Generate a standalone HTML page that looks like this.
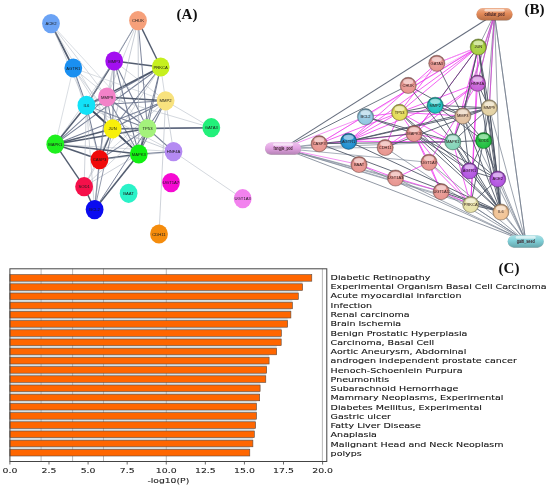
<!DOCTYPE html>
<html><head><meta charset="utf-8"><style>html,body{margin:0;padding:0;background:#fff;width:550px;height:488px;overflow:hidden}svg{display:block}</style></head>
<body><svg width="550" height="488" viewBox="0 0 550 488">
<rect width="550" height="488" fill="#fff"/>
<g><line x1="114.2" y1="61" x2="160.7" y2="67" stroke="#404b60" stroke-width="1.56" stroke-opacity="0.9"/>
<line x1="114.2" y1="61" x2="86.4" y2="105.4" stroke="#404b60" stroke-width="1.56" stroke-opacity="0.9"/>
<line x1="114.2" y1="61" x2="112.6" y2="128.8" stroke="#66708a" stroke-width="1.01" stroke-opacity="0.9"/>
<line x1="114.2" y1="61" x2="147.5" y2="128.5" stroke="#66708a" stroke-width="1.01" stroke-opacity="0.9"/>
<line x1="114.2" y1="61" x2="138.8" y2="154" stroke="#66708a" stroke-width="1.01" stroke-opacity="0.9"/>
<line x1="114.2" y1="61" x2="107" y2="97" stroke="#a8b0bc" stroke-width="0.55" stroke-opacity="0.9"/>
<line x1="114.2" y1="61" x2="99.5" y2="159.6" stroke="#a8b0bc" stroke-width="0.55" stroke-opacity="0.9"/>
<line x1="114.2" y1="61" x2="55.3" y2="144.2" stroke="#a8b0bc" stroke-width="0.55" stroke-opacity="0.9"/>
<line x1="114.2" y1="61" x2="165.6" y2="100.8" stroke="#a8b0bc" stroke-width="0.55" stroke-opacity="0.9"/>
<line x1="160.7" y1="67" x2="107" y2="97" stroke="#66708a" stroke-width="1.01" stroke-opacity="0.9"/>
<line x1="160.7" y1="67" x2="86.4" y2="105.4" stroke="#404b60" stroke-width="1.56" stroke-opacity="0.9"/>
<line x1="160.7" y1="67" x2="55.3" y2="144.2" stroke="#66708a" stroke-width="1.01" stroke-opacity="0.9"/>
<line x1="160.7" y1="67" x2="112.6" y2="128.8" stroke="#66708a" stroke-width="1.01" stroke-opacity="0.9"/>
<line x1="160.7" y1="67" x2="147.5" y2="128.5" stroke="#66708a" stroke-width="1.01" stroke-opacity="0.9"/>
<line x1="160.7" y1="67" x2="138.8" y2="154" stroke="#66708a" stroke-width="1.01" stroke-opacity="0.9"/>
<line x1="160.7" y1="67" x2="99.5" y2="159.6" stroke="#a8b0bc" stroke-width="0.55" stroke-opacity="0.9"/>
<line x1="160.7" y1="67" x2="165.6" y2="100.8" stroke="#a8b0bc" stroke-width="0.55" stroke-opacity="0.9"/>
<line x1="73.3" y1="68" x2="86.4" y2="105.4" stroke="#66708a" stroke-width="1.01" stroke-opacity="0.9"/>
<line x1="73.3" y1="68" x2="55.3" y2="144.2" stroke="#a8b0bc" stroke-width="0.47" stroke-opacity="0.9"/>
<line x1="73.3" y1="68" x2="112.6" y2="128.8" stroke="#a8b0bc" stroke-width="0.55" stroke-opacity="0.9"/>
<line x1="73.3" y1="68" x2="147.5" y2="128.5" stroke="#a8b0bc" stroke-width="0.55" stroke-opacity="0.9"/>
<line x1="73.3" y1="68" x2="138.8" y2="154" stroke="#a8b0bc" stroke-width="0.55" stroke-opacity="0.9"/>
<line x1="73.3" y1="68" x2="165.6" y2="100.8" stroke="#a8b0bc" stroke-width="0.47" stroke-opacity="0.9"/>
<line x1="73.3" y1="68" x2="99.5" y2="159.6" stroke="#a8b0bc" stroke-width="0.55" stroke-opacity="0.9"/>
<line x1="107" y1="97" x2="165.6" y2="100.8" stroke="#404b60" stroke-width="1.56" stroke-opacity="0.9"/>
<line x1="107" y1="97" x2="86.4" y2="105.4" stroke="#66708a" stroke-width="1.01" stroke-opacity="0.9"/>
<line x1="107" y1="97" x2="112.6" y2="128.8" stroke="#66708a" stroke-width="1.01" stroke-opacity="0.9"/>
<line x1="107" y1="97" x2="147.5" y2="128.5" stroke="#66708a" stroke-width="1.01" stroke-opacity="0.9"/>
<line x1="107" y1="97" x2="55.3" y2="144.2" stroke="#66708a" stroke-width="1.01" stroke-opacity="0.9"/>
<line x1="107" y1="97" x2="99.5" y2="159.6" stroke="#66708a" stroke-width="1.01" stroke-opacity="0.9"/>
<line x1="107" y1="97" x2="138.8" y2="154" stroke="#66708a" stroke-width="1.01" stroke-opacity="0.9"/>
<line x1="86.4" y1="105.4" x2="112.6" y2="128.8" stroke="#404b60" stroke-width="1.56" stroke-opacity="0.9"/>
<line x1="86.4" y1="105.4" x2="138.8" y2="154" stroke="#404b60" stroke-width="1.56" stroke-opacity="0.9"/>
<line x1="86.4" y1="105.4" x2="147.5" y2="128.5" stroke="#66708a" stroke-width="1.01" stroke-opacity="0.9"/>
<line x1="86.4" y1="105.4" x2="55.3" y2="144.2" stroke="#404b60" stroke-width="1.56" stroke-opacity="0.9"/>
<line x1="86.4" y1="105.4" x2="99.5" y2="159.6" stroke="#66708a" stroke-width="1.01" stroke-opacity="0.9"/>
<line x1="86.4" y1="105.4" x2="165.6" y2="100.8" stroke="#66708a" stroke-width="1.01" stroke-opacity="0.9"/>
<line x1="165.6" y1="100.8" x2="112.6" y2="128.8" stroke="#66708a" stroke-width="1.01" stroke-opacity="0.9"/>
<line x1="165.6" y1="100.8" x2="147.5" y2="128.5" stroke="#66708a" stroke-width="1.01" stroke-opacity="0.9"/>
<line x1="165.6" y1="100.8" x2="55.3" y2="144.2" stroke="#66708a" stroke-width="1.01" stroke-opacity="0.9"/>
<line x1="165.6" y1="100.8" x2="138.8" y2="154" stroke="#66708a" stroke-width="1.01" stroke-opacity="0.9"/>
<line x1="165.6" y1="100.8" x2="99.5" y2="159.6" stroke="#a8b0bc" stroke-width="0.55" stroke-opacity="0.9"/>
<line x1="112.6" y1="128.8" x2="147.5" y2="128.5" stroke="#404b60" stroke-width="1.56" stroke-opacity="0.9"/>
<line x1="112.6" y1="128.8" x2="55.3" y2="144.2" stroke="#404b60" stroke-width="1.56" stroke-opacity="0.9"/>
<line x1="112.6" y1="128.8" x2="99.5" y2="159.6" stroke="#404b60" stroke-width="1.56" stroke-opacity="0.9"/>
<line x1="112.6" y1="128.8" x2="138.8" y2="154" stroke="#404b60" stroke-width="1.56" stroke-opacity="0.9"/>
<line x1="147.5" y1="128.5" x2="55.3" y2="144.2" stroke="#404b60" stroke-width="1.56" stroke-opacity="0.9"/>
<line x1="147.5" y1="128.5" x2="99.5" y2="159.6" stroke="#66708a" stroke-width="1.01" stroke-opacity="0.9"/>
<line x1="147.5" y1="128.5" x2="138.8" y2="154" stroke="#404b60" stroke-width="1.56" stroke-opacity="0.9"/>
<line x1="55.3" y1="144.2" x2="99.5" y2="159.6" stroke="#404b60" stroke-width="1.56" stroke-opacity="0.9"/>
<line x1="55.3" y1="144.2" x2="138.8" y2="154" stroke="#404b60" stroke-width="1.56" stroke-opacity="0.9"/>
<line x1="99.5" y1="159.6" x2="138.8" y2="154" stroke="#404b60" stroke-width="1.56" stroke-opacity="0.9"/>
<line x1="51" y1="23.6" x2="73.3" y2="68" stroke="#404b60" stroke-width="1.72" stroke-opacity="0.9"/>
<line x1="51" y1="23.6" x2="86.4" y2="105.4" stroke="#a8b0bc" stroke-width="0.55" stroke-opacity="0.9"/>
<line x1="51" y1="23.6" x2="107" y2="97" stroke="#a8b0bc" stroke-width="0.55" stroke-opacity="0.9"/>
<line x1="51" y1="23.6" x2="112.6" y2="128.8" stroke="#a8b0bc" stroke-width="0.47" stroke-opacity="0.9"/>
<line x1="51" y1="23.6" x2="147.5" y2="128.5" stroke="#a8b0bc" stroke-width="0.47" stroke-opacity="0.9"/>
<line x1="138" y1="20.6" x2="114.2" y2="61" stroke="#66708a" stroke-width="0.94" stroke-opacity="0.9"/>
<line x1="138" y1="20.6" x2="160.7" y2="67" stroke="#404b60" stroke-width="1.40" stroke-opacity="0.9"/>
<line x1="138" y1="20.6" x2="112.6" y2="128.8" stroke="#a8b0bc" stroke-width="0.70" stroke-opacity="0.9"/>
<line x1="138" y1="20.6" x2="147.5" y2="128.5" stroke="#66708a" stroke-width="0.94" stroke-opacity="0.9"/>
<line x1="138" y1="20.6" x2="138.8" y2="154" stroke="#a8b0bc" stroke-width="0.70" stroke-opacity="0.9"/>
<line x1="138" y1="20.6" x2="86.4" y2="105.4" stroke="#a8b0bc" stroke-width="0.55" stroke-opacity="0.9"/>
<line x1="138" y1="20.6" x2="107" y2="97" stroke="#a8b0bc" stroke-width="0.55" stroke-opacity="0.9"/>
<line x1="211.3" y1="127.7" x2="147.5" y2="128.5" stroke="#404b60" stroke-width="1.56" stroke-opacity="0.9"/>
<line x1="211.3" y1="127.7" x2="112.6" y2="128.8" stroke="#66708a" stroke-width="0.94" stroke-opacity="0.9"/>
<line x1="211.3" y1="127.7" x2="165.6" y2="100.8" stroke="#a8b0bc" stroke-width="0.55" stroke-opacity="0.9"/>
<line x1="211.3" y1="127.7" x2="107" y2="97" stroke="#a8b0bc" stroke-width="0.55" stroke-opacity="0.9"/>
<line x1="173.5" y1="151.6" x2="147.5" y2="128.5" stroke="#66708a" stroke-width="1.09" stroke-opacity="0.9"/>
<line x1="173.5" y1="151.6" x2="138.8" y2="154" stroke="#66708a" stroke-width="1.09" stroke-opacity="0.9"/>
<line x1="173.5" y1="151.6" x2="112.6" y2="128.8" stroke="#a8b0bc" stroke-width="0.70" stroke-opacity="0.9"/>
<line x1="173.5" y1="151.6" x2="165.6" y2="100.8" stroke="#a8b0bc" stroke-width="0.62" stroke-opacity="0.9"/>
<line x1="173.5" y1="151.6" x2="55.3" y2="144.2" stroke="#a8b0bc" stroke-width="0.55" stroke-opacity="0.9"/>
<line x1="173.5" y1="151.6" x2="86.4" y2="105.4" stroke="#a8b0bc" stroke-width="0.55" stroke-opacity="0.9"/>
<line x1="173.5" y1="151.6" x2="99.5" y2="159.6" stroke="#a8b0bc" stroke-width="0.55" stroke-opacity="0.9"/>
<line x1="173.5" y1="151.6" x2="242.7" y2="198.7" stroke="#a8b0bc" stroke-width="0.55" stroke-opacity="0.9"/>
<line x1="159" y1="234" x2="165.6" y2="100.8" stroke="#a8b0bc" stroke-width="0.62" stroke-opacity="0.9"/>
<line x1="84.1" y1="186.7" x2="55.3" y2="144.2" stroke="#404b60" stroke-width="1.40" stroke-opacity="0.9"/>
<line x1="84.1" y1="186.7" x2="94.6" y2="209.6" stroke="#404b60" stroke-width="1.40" stroke-opacity="0.9"/>
<line x1="84.1" y1="186.7" x2="99.5" y2="159.6" stroke="#a8b0bc" stroke-width="0.62" stroke-opacity="0.9"/>
<line x1="84.1" y1="186.7" x2="86.4" y2="105.4" stroke="#a8b0bc" stroke-width="0.62" stroke-opacity="0.9"/>
<line x1="84.1" y1="186.7" x2="138.8" y2="154" stroke="#a8b0bc" stroke-width="0.62" stroke-opacity="0.9"/>
<line x1="84.1" y1="186.7" x2="147.5" y2="128.5" stroke="#a8b0bc" stroke-width="0.55" stroke-opacity="0.9"/>
<line x1="84.1" y1="186.7" x2="112.6" y2="128.8" stroke="#a8b0bc" stroke-width="0.55" stroke-opacity="0.9"/>
<line x1="94.6" y1="209.6" x2="99.5" y2="159.6" stroke="#66708a" stroke-width="1.09" stroke-opacity="0.9"/>
<line x1="94.6" y1="209.6" x2="138.8" y2="154" stroke="#404b60" stroke-width="1.56" stroke-opacity="0.9"/>
<line x1="94.6" y1="209.6" x2="147.5" y2="128.5" stroke="#66708a" stroke-width="0.94" stroke-opacity="0.9"/>
<line x1="94.6" y1="209.6" x2="112.6" y2="128.8" stroke="#66708a" stroke-width="0.78" stroke-opacity="0.9"/>
<line x1="94.6" y1="209.6" x2="107" y2="97" stroke="#a8b0bc" stroke-width="0.62" stroke-opacity="0.9"/>
<line x1="94.6" y1="209.6" x2="86.4" y2="105.4" stroke="#a8b0bc" stroke-width="0.62" stroke-opacity="0.9"/>
<ellipse cx="51" cy="23.6" rx="8.9" ry="9.6" fill="#6ba3f5"/>
<text x="51" y="25.200000000000003" font-size="4.2" text-anchor="middle" fill="#1a1a1a" font-family="Liberation Sans, sans-serif">ACE2</text>
<ellipse cx="138" cy="20.6" rx="8.9" ry="9.6" fill="#f6a07a"/>
<text x="138" y="22.200000000000003" font-size="4.2" text-anchor="middle" fill="#1a1a1a" font-family="Liberation Sans, sans-serif">CHUK</text>
<ellipse cx="114.2" cy="61" rx="8.9" ry="9.6" fill="#a30ff0"/>
<text x="114.2" y="62.6" font-size="4.2" text-anchor="middle" fill="#1a1a1a" font-family="Liberation Sans, sans-serif">MMP3</text>
<ellipse cx="160.7" cy="67" rx="8.9" ry="9.6" fill="#c6f01e"/>
<text x="160.7" y="68.6" font-size="4.2" text-anchor="middle" fill="#1a1a1a" font-family="Liberation Sans, sans-serif">PRKCA</text>
<ellipse cx="73.3" cy="68" rx="8.9" ry="9.6" fill="#1a8ff0"/>
<text x="73.3" y="69.6" font-size="4.2" text-anchor="middle" fill="#1a1a1a" font-family="Liberation Sans, sans-serif">AGTR1</text>
<ellipse cx="107" cy="97" rx="8.9" ry="9.6" fill="#f282c8"/>
<text x="107" y="98.6" font-size="4.2" text-anchor="middle" fill="#1a1a1a" font-family="Liberation Sans, sans-serif">MMP9</text>
<ellipse cx="86.4" cy="105.4" rx="8.9" ry="9.6" fill="#12e2f8"/>
<text x="86.4" y="107.0" font-size="4.2" text-anchor="middle" fill="#1a1a1a" font-family="Liberation Sans, sans-serif">IL6</text>
<ellipse cx="165.6" cy="100.8" rx="8.9" ry="9.6" fill="#f8e27e"/>
<text x="165.6" y="102.39999999999999" font-size="4.2" text-anchor="middle" fill="#1a1a1a" font-family="Liberation Sans, sans-serif">MMP2</text>
<ellipse cx="112.6" cy="128.8" rx="8.9" ry="9.6" fill="#f8f00a"/>
<text x="112.6" y="130.4" font-size="4.2" text-anchor="middle" fill="#1a1a1a" font-family="Liberation Sans, sans-serif">JUN</text>
<ellipse cx="147.5" cy="128.5" rx="8.9" ry="9.6" fill="#a4f27c"/>
<text x="147.5" y="130.1" font-size="4.2" text-anchor="middle" fill="#1a1a1a" font-family="Liberation Sans, sans-serif">TP53</text>
<ellipse cx="211.3" cy="127.7" rx="8.9" ry="9.6" fill="#22f07a"/>
<text x="211.3" y="129.3" font-size="4.2" text-anchor="middle" fill="#1a1a1a" font-family="Liberation Sans, sans-serif">GATA3</text>
<ellipse cx="55.3" cy="144.2" rx="8.9" ry="9.6" fill="#1ef01e"/>
<text x="55.3" y="145.79999999999998" font-size="4.2" text-anchor="middle" fill="#1a1a1a" font-family="Liberation Sans, sans-serif">MAPK1</text>
<ellipse cx="99.5" cy="159.6" rx="8.9" ry="9.6" fill="#f00a0a"/>
<text x="99.5" y="161.2" font-size="4.2" text-anchor="middle" fill="#1a1a1a" font-family="Liberation Sans, sans-serif">CASP3</text>
<ellipse cx="138.8" cy="154" rx="8.9" ry="9.6" fill="#12f012"/>
<text x="138.8" y="155.6" font-size="4.2" text-anchor="middle" fill="#1a1a1a" font-family="Liberation Sans, sans-serif">MAPK3</text>
<ellipse cx="173.5" cy="151.6" rx="8.9" ry="9.6" fill="#b48af2"/>
<text x="173.5" y="153.2" font-size="4.2" text-anchor="middle" fill="#1a1a1a" font-family="Liberation Sans, sans-serif">HNF4A</text>
<ellipse cx="171" cy="182.6" rx="8.9" ry="9.6" fill="#f50ad2"/>
<text x="171" y="184.2" font-size="4.2" text-anchor="middle" fill="#1a1a1a" font-family="Liberation Sans, sans-serif">UGT1A7</text>
<ellipse cx="84.1" cy="186.7" rx="8.9" ry="9.6" fill="#f5104a"/>
<text x="84.1" y="188.29999999999998" font-size="4.2" text-anchor="middle" fill="#1a1a1a" font-family="Liberation Sans, sans-serif">SOD1</text>
<ellipse cx="128.6" cy="193.3" rx="8.9" ry="9.6" fill="#2af2c8"/>
<text x="128.6" y="194.9" font-size="4.2" text-anchor="middle" fill="#1a1a1a" font-family="Liberation Sans, sans-serif">BAAT</text>
<ellipse cx="94.6" cy="209.6" rx="8.9" ry="9.6" fill="#0a0af0"/>
<text x="94.6" y="211.2" font-size="4.2" text-anchor="middle" fill="#1a1a1a" font-family="Liberation Sans, sans-serif">BCL2</text>
<ellipse cx="242.7" cy="198.7" rx="8.9" ry="9.6" fill="#f282ee"/>
<text x="242.7" y="200.29999999999998" font-size="4.2" text-anchor="middle" fill="#1a1a1a" font-family="Liberation Sans, sans-serif">UGT1A3</text>
<ellipse cx="159" cy="234" rx="8.9" ry="9.6" fill="#f58c0c"/>
<text x="159" y="235.6" font-size="4.2" text-anchor="middle" fill="#1a1a1a" font-family="Liberation Sans, sans-serif">CDH11</text></g>
<g><defs><linearGradient id="pg1" x1="0" y1="0" x2="0" y2="1"><stop offset="0" stop-color="#edb292"/><stop offset="0.45" stop-color="#e48a58"/><stop offset="1" stop-color="#b66e46"/></linearGradient><linearGradient id="pg2" x1="0" y1="0" x2="0" y2="1"><stop offset="0" stop-color="#edc3ed"/><stop offset="0.45" stop-color="#e4a4e4"/><stop offset="1" stop-color="#b683b6"/></linearGradient><linearGradient id="pg3" x1="0" y1="0" x2="0" y2="1"><stop offset="0" stop-color="#ace0e5"/><stop offset="0.45" stop-color="#80d0d8"/><stop offset="1" stop-color="#66a6ac"/></linearGradient><radialGradient id="ng4" cx="0.5" cy="0.55" r="0.55"><stop offset="0" stop-color="#b2d556"/><stop offset="0.7" stop-color="#a8d040"/><stop offset="1" stop-color="#5c7223"/></radialGradient><radialGradient id="ng5" cx="0.5" cy="0.55" r="0.55"><stop offset="0" stop-color="#eaa29d"/><stop offset="0.7" stop-color="#e89690"/><stop offset="1" stop-color="#7f524f"/></radialGradient><radialGradient id="ng6" cx="0.5" cy="0.55" r="0.55"><stop offset="0" stop-color="#eaa29d"/><stop offset="0.7" stop-color="#e89690"/><stop offset="1" stop-color="#7f524f"/></radialGradient><radialGradient id="ng7" cx="0.5" cy="0.55" r="0.55"><stop offset="0" stop-color="#ce73dc"/><stop offset="0.7" stop-color="#c860d8"/><stop offset="1" stop-color="#6e3476"/></radialGradient><radialGradient id="ng8" cx="0.5" cy="0.55" r="0.55"><stop offset="0" stop-color="#9fcee5"/><stop offset="0.7" stop-color="#92c8e2"/><stop offset="1" stop-color="#506e7c"/></radialGradient><radialGradient id="ng9" cx="0.5" cy="0.55" r="0.55"><stop offset="0" stop-color="#e7e06d"/><stop offset="0.7" stop-color="#e4dc5a"/><stop offset="1" stop-color="#7d7931"/></radialGradient><radialGradient id="ng10" cx="0.5" cy="0.55" r="0.55"><stop offset="0" stop-color="#3ac9c7"/><stop offset="0.7" stop-color="#20c2c0"/><stop offset="1" stop-color="#116a69"/></radialGradient><radialGradient id="ng11" cx="0.5" cy="0.55" r="0.55"><stop offset="0" stop-color="#e5c7ab"/><stop offset="0.7" stop-color="#e2c0a0"/><stop offset="1" stop-color="#7c6958"/></radialGradient><radialGradient id="ng12" cx="0.5" cy="0.55" r="0.55"><stop offset="0" stop-color="#e7d7ae"/><stop offset="0.7" stop-color="#e4d2a4"/><stop offset="1" stop-color="#7d735a"/></radialGradient><radialGradient id="ng13" cx="0.5" cy="0.55" r="0.55"><stop offset="0" stop-color="#eaa29d"/><stop offset="0.7" stop-color="#e89690"/><stop offset="1" stop-color="#7f524f"/></radialGradient><radialGradient id="ng14" cx="0.5" cy="0.55" r="0.55"><stop offset="0" stop-color="#3a9dd5"/><stop offset="0.7" stop-color="#2090d0"/><stop offset="1" stop-color="#114f72"/></radialGradient><radialGradient id="ng15" cx="0.5" cy="0.55" r="0.55"><stop offset="0" stop-color="#eaa29d"/><stop offset="0.7" stop-color="#e89690"/><stop offset="1" stop-color="#7f524f"/></radialGradient><radialGradient id="ng16" cx="0.5" cy="0.55" r="0.55"><stop offset="0" stop-color="#92d9c0"/><stop offset="0.7" stop-color="#84d4b8"/><stop offset="1" stop-color="#487465"/></radialGradient><radialGradient id="ng17" cx="0.5" cy="0.55" r="0.55"><stop offset="0" stop-color="#3ac756"/><stop offset="0.7" stop-color="#20c040"/><stop offset="1" stop-color="#116923"/></radialGradient><radialGradient id="ng18" cx="0.5" cy="0.55" r="0.55"><stop offset="0" stop-color="#eaa29d"/><stop offset="0.7" stop-color="#e89690"/><stop offset="1" stop-color="#7f524f"/></radialGradient><radialGradient id="ng19" cx="0.5" cy="0.55" r="0.55"><stop offset="0" stop-color="#eaa29d"/><stop offset="0.7" stop-color="#e89690"/><stop offset="1" stop-color="#7f524f"/></radialGradient><radialGradient id="ng20" cx="0.5" cy="0.55" r="0.55"><stop offset="0" stop-color="#eaa29d"/><stop offset="0.7" stop-color="#e89690"/><stop offset="1" stop-color="#7f524f"/></radialGradient><radialGradient id="ng21" cx="0.5" cy="0.55" r="0.55"><stop offset="0" stop-color="#eaa29d"/><stop offset="0.7" stop-color="#e89690"/><stop offset="1" stop-color="#7f524f"/></radialGradient><radialGradient id="ng22" cx="0.5" cy="0.55" r="0.55"><stop offset="0" stop-color="#bd6ae5"/><stop offset="0.7" stop-color="#b456e2"/><stop offset="1" stop-color="#632f7c"/></radialGradient><radialGradient id="ng23" cx="0.5" cy="0.55" r="0.55"><stop offset="0" stop-color="#bd6ae5"/><stop offset="0.7" stop-color="#b456e2"/><stop offset="1" stop-color="#632f7c"/></radialGradient><radialGradient id="ng24" cx="0.5" cy="0.55" r="0.55"><stop offset="0" stop-color="#eaa29d"/><stop offset="0.7" stop-color="#e89690"/><stop offset="1" stop-color="#7f524f"/></radialGradient><radialGradient id="ng25" cx="0.5" cy="0.55" r="0.55"><stop offset="0" stop-color="#eae5b2"/><stop offset="0.7" stop-color="#e8e2a8"/><stop offset="1" stop-color="#7f7c5c"/></radialGradient><radialGradient id="ng26" cx="0.5" cy="0.55" r="0.55"><stop offset="0" stop-color="#f3cba2"/><stop offset="0.7" stop-color="#f2c496"/><stop offset="1" stop-color="#856b52"/></radialGradient></defs><line x1="494.5" y1="14.2" x2="283.1" y2="148.4" stroke="#4a5466" stroke-width="1.1" stroke-opacity="0.85"/>
<line x1="283.1" y1="148.4" x2="525.7" y2="241.3" stroke="#6e7888" stroke-width="0.9" stroke-opacity="0.85"/>
<line x1="494.5" y1="14.2" x2="525.7" y2="241.3" stroke="#6e7888" stroke-width="0.8" stroke-opacity="0.85"/>
<line x1="494.5" y1="14.2" x2="525.7" y2="241.3" stroke="#6e7888" stroke-width="0.8" stroke-opacity="0.85"/>
<line x1="494.5" y1="14.2" x2="478.3" y2="47" stroke="#6e7888" stroke-width="0.8" stroke-opacity="0.85"/>
<line x1="494.5" y1="14.2" x2="477.5" y2="83.2" stroke="#6e7888" stroke-width="0.8" stroke-opacity="0.85"/>
<line x1="494.5" y1="14.2" x2="489.3" y2="107.8" stroke="#6e7888" stroke-width="0.8" stroke-opacity="0.85"/>
<line x1="494.5" y1="14.2" x2="483.6" y2="140.5" stroke="#6e7888" stroke-width="0.8" stroke-opacity="0.85"/>
<line x1="494.5" y1="14.2" x2="500.9" y2="212" stroke="#6e7888" stroke-width="0.8" stroke-opacity="0.85"/>
<line x1="494.5" y1="14.2" x2="462.8" y2="115.9" stroke="#6e7888" stroke-width="0.8" stroke-opacity="0.85"/>
<line x1="494.5" y1="14.2" x2="489.3" y2="107.8" stroke="#e040e0" stroke-width="0.9" stroke-opacity="0.85"/>
<line x1="494.5" y1="14.2" x2="477.5" y2="83.2" stroke="#e040e0" stroke-width="0.9" stroke-opacity="0.85"/>
<line x1="494.5" y1="14.2" x2="452.8" y2="141.8" stroke="#e040e0" stroke-width="0.9" stroke-opacity="0.85"/>
<line x1="478.3" y1="47" x2="436.8" y2="63.3" stroke="#ee30ee" stroke-width="0.9" stroke-opacity="0.85"/>
<line x1="478.3" y1="47" x2="319.2" y2="143.7" stroke="#f4a0f4" stroke-width="0.7" stroke-opacity="0.85"/>
<line x1="478.3" y1="47" x2="408.2" y2="85.4" stroke="#f4a0f4" stroke-width="0.7" stroke-opacity="0.85"/>
<line x1="478.3" y1="47" x2="365.5" y2="116.7" stroke="#f4a0f4" stroke-width="0.7" stroke-opacity="0.85"/>
<line x1="478.3" y1="47" x2="436.8" y2="63.3" stroke="#f4a0f4" stroke-width="0.7" stroke-opacity="0.85"/>
<line x1="283.1" y1="148.4" x2="408.2" y2="85.4" stroke="#556070" stroke-width="1.0" stroke-opacity="0.85"/>
<line x1="283.1" y1="148.4" x2="319.2" y2="143.7" stroke="#7e8898" stroke-width="0.8" stroke-opacity="0.85"/>
<line x1="283.1" y1="148.4" x2="348.6" y2="141.3" stroke="#7e8898" stroke-width="0.8" stroke-opacity="0.85"/>
<line x1="283.1" y1="148.4" x2="452.8" y2="141.8" stroke="#7e8898" stroke-width="0.8" stroke-opacity="0.85"/>
<line x1="283.1" y1="148.4" x2="429" y2="162.3" stroke="#7e8898" stroke-width="0.8" stroke-opacity="0.85"/>
<line x1="283.1" y1="148.4" x2="395.5" y2="178" stroke="#7e8898" stroke-width="0.8" stroke-opacity="0.85"/>
<line x1="283.1" y1="148.4" x2="441.2" y2="191.6" stroke="#7e8898" stroke-width="0.8" stroke-opacity="0.85"/>
<line x1="283.1" y1="148.4" x2="470.7" y2="204.5" stroke="#7e8898" stroke-width="0.8" stroke-opacity="0.85"/>
<line x1="283.1" y1="148.4" x2="500.9" y2="212" stroke="#7e8898" stroke-width="0.8" stroke-opacity="0.85"/>
<line x1="283.1" y1="148.4" x2="385.2" y2="147.5" stroke="#7e8898" stroke-width="0.8" stroke-opacity="0.85"/>
<line x1="283.1" y1="148.4" x2="359" y2="164.5" stroke="#f070f0" stroke-width="0.9" stroke-opacity="0.85"/>
<line x1="283.1" y1="148.4" x2="365.5" y2="116.7" stroke="#f070f0" stroke-width="0.9" stroke-opacity="0.85"/>
<line x1="525.7" y1="241.3" x2="500.9" y2="212" stroke="#6e7888" stroke-width="0.8" stroke-opacity="0.85"/>
<line x1="525.7" y1="241.3" x2="470.7" y2="204.5" stroke="#6e7888" stroke-width="0.8" stroke-opacity="0.85"/>
<line x1="525.7" y1="241.3" x2="497.7" y2="179" stroke="#6e7888" stroke-width="0.8" stroke-opacity="0.85"/>
<line x1="525.7" y1="241.3" x2="469.5" y2="170.8" stroke="#6e7888" stroke-width="0.8" stroke-opacity="0.85"/>
<line x1="525.7" y1="241.3" x2="441.2" y2="191.6" stroke="#6e7888" stroke-width="0.8" stroke-opacity="0.85"/>
<line x1="525.7" y1="241.3" x2="395.5" y2="178" stroke="#6e7888" stroke-width="0.8" stroke-opacity="0.85"/>
<line x1="525.7" y1="241.3" x2="483.6" y2="140.5" stroke="#6e7888" stroke-width="0.8" stroke-opacity="0.85"/>
<line x1="525.7" y1="241.3" x2="462.8" y2="115.9" stroke="#6e7888" stroke-width="0.8" stroke-opacity="0.85"/>
<line x1="525.7" y1="241.3" x2="489.3" y2="107.8" stroke="#6e7888" stroke-width="0.8" stroke-opacity="0.85"/>
<line x1="525.7" y1="241.3" x2="359" y2="164.5" stroke="#6e7888" stroke-width="0.8" stroke-opacity="0.85"/>
<line x1="525.7" y1="241.3" x2="385.2" y2="147.5" stroke="#6e7888" stroke-width="0.8" stroke-opacity="0.85"/>
<line x1="525.7" y1="241.3" x2="429" y2="162.3" stroke="#6e7888" stroke-width="0.8" stroke-opacity="0.85"/>
<line x1="478.3" y1="47" x2="399.6" y2="112.4" stroke="#ee30ee" stroke-width="0.9" stroke-opacity="0.85"/>
<line x1="478.3" y1="47" x2="414.1" y2="133.6" stroke="#ee30ee" stroke-width="0.9" stroke-opacity="0.85"/>
<line x1="478.3" y1="47" x2="348.6" y2="141.3" stroke="#ee30ee" stroke-width="0.9" stroke-opacity="0.85"/>
<line x1="478.3" y1="47" x2="319.2" y2="143.7" stroke="#ee30ee" stroke-width="0.9" stroke-opacity="0.85"/>
<line x1="478.3" y1="47" x2="452.8" y2="141.8" stroke="#ee30ee" stroke-width="0.9" stroke-opacity="0.85"/>
<line x1="478.3" y1="47" x2="470.7" y2="204.5" stroke="#ee30ee" stroke-width="0.9" stroke-opacity="0.85"/>
<line x1="477.5" y1="83.2" x2="399.6" y2="112.4" stroke="#ee30ee" stroke-width="0.9" stroke-opacity="0.85"/>
<line x1="477.5" y1="83.2" x2="429" y2="162.3" stroke="#ee30ee" stroke-width="0.9" stroke-opacity="0.85"/>
<line x1="477.5" y1="83.2" x2="414.1" y2="133.6" stroke="#ee30ee" stroke-width="0.9" stroke-opacity="0.85"/>
<line x1="477.5" y1="83.2" x2="470.7" y2="204.5" stroke="#ee30ee" stroke-width="0.9" stroke-opacity="0.85"/>
<line x1="477.5" y1="83.2" x2="385.2" y2="147.5" stroke="#ee30ee" stroke-width="0.9" stroke-opacity="0.85"/>
<line x1="436.8" y1="63.3" x2="399.6" y2="112.4" stroke="#ee30ee" stroke-width="0.9" stroke-opacity="0.85"/>
<line x1="436.8" y1="63.3" x2="348.6" y2="141.3" stroke="#ee30ee" stroke-width="0.9" stroke-opacity="0.85"/>
<line x1="399.6" y1="112.4" x2="414.1" y2="133.6" stroke="#ee30ee" stroke-width="0.9" stroke-opacity="0.85"/>
<line x1="399.6" y1="112.4" x2="348.6" y2="141.3" stroke="#ee30ee" stroke-width="0.9" stroke-opacity="0.85"/>
<line x1="399.6" y1="112.4" x2="452.8" y2="141.8" stroke="#ee30ee" stroke-width="0.9" stroke-opacity="0.85"/>
<line x1="399.6" y1="112.4" x2="319.2" y2="143.7" stroke="#ee30ee" stroke-width="0.9" stroke-opacity="0.85"/>
<line x1="399.6" y1="112.4" x2="365.5" y2="116.7" stroke="#ee30ee" stroke-width="0.9" stroke-opacity="0.85"/>
<line x1="399.6" y1="112.4" x2="462.8" y2="115.9" stroke="#ee30ee" stroke-width="0.9" stroke-opacity="0.85"/>
<line x1="399.6" y1="112.4" x2="385.2" y2="147.5" stroke="#ee30ee" stroke-width="0.9" stroke-opacity="0.85"/>
<line x1="414.1" y1="133.6" x2="348.6" y2="141.3" stroke="#ee30ee" stroke-width="0.9" stroke-opacity="0.85"/>
<line x1="414.1" y1="133.6" x2="452.8" y2="141.8" stroke="#ee30ee" stroke-width="0.9" stroke-opacity="0.85"/>
<line x1="414.1" y1="133.6" x2="429" y2="162.3" stroke="#ee30ee" stroke-width="0.9" stroke-opacity="0.85"/>
<line x1="414.1" y1="133.6" x2="441.2" y2="191.6" stroke="#ee30ee" stroke-width="0.9" stroke-opacity="0.85"/>
<line x1="414.1" y1="133.6" x2="470.7" y2="204.5" stroke="#ee30ee" stroke-width="0.9" stroke-opacity="0.85"/>
<line x1="414.1" y1="133.6" x2="385.2" y2="147.5" stroke="#ee30ee" stroke-width="0.9" stroke-opacity="0.85"/>
<line x1="395.5" y1="178" x2="429" y2="162.3" stroke="#ee30ee" stroke-width="0.9" stroke-opacity="0.85"/>
<line x1="395.5" y1="178" x2="441.2" y2="191.6" stroke="#ee30ee" stroke-width="0.9" stroke-opacity="0.85"/>
<line x1="441.2" y1="191.6" x2="429" y2="162.3" stroke="#ee30ee" stroke-width="0.9" stroke-opacity="0.85"/>
<line x1="441.2" y1="191.6" x2="470.7" y2="204.5" stroke="#ee30ee" stroke-width="0.9" stroke-opacity="0.85"/>
<line x1="429" y1="162.3" x2="470.7" y2="204.5" stroke="#ee30ee" stroke-width="0.9" stroke-opacity="0.85"/>
<line x1="348.6" y1="141.3" x2="319.2" y2="143.7" stroke="#ee30ee" stroke-width="0.9" stroke-opacity="0.85"/>
<line x1="348.6" y1="141.3" x2="452.8" y2="141.8" stroke="#ee30ee" stroke-width="0.9" stroke-opacity="0.85"/>
<line x1="359" y1="164.5" x2="395.5" y2="178" stroke="#ee30ee" stroke-width="0.9" stroke-opacity="0.85"/>
<line x1="452.8" y1="141.8" x2="470.7" y2="204.5" stroke="#ee30ee" stroke-width="0.9" stroke-opacity="0.85"/>
<line x1="435.2" y1="105.3" x2="348.6" y2="141.3" stroke="#ee30ee" stroke-width="0.9" stroke-opacity="0.85"/>
<line x1="435.2" y1="105.3" x2="414.1" y2="133.6" stroke="#ee30ee" stroke-width="0.9" stroke-opacity="0.85"/>
<line x1="435.2" y1="105.3" x2="462.8" y2="115.9" stroke="#485060" stroke-width="1.0" stroke-opacity="0.85"/>
<line x1="435.2" y1="105.3" x2="489.3" y2="107.8" stroke="#485060" stroke-width="1.0" stroke-opacity="0.85"/>
<line x1="462.8" y1="115.9" x2="489.3" y2="107.8" stroke="#485060" stroke-width="1.0" stroke-opacity="0.85"/>
<line x1="435.2" y1="105.3" x2="399.6" y2="112.4" stroke="#485060" stroke-width="1.0" stroke-opacity="0.85"/>
<line x1="462.8" y1="115.9" x2="452.8" y2="141.8" stroke="#485060" stroke-width="1.0" stroke-opacity="0.85"/>
<line x1="489.3" y1="107.8" x2="452.8" y2="141.8" stroke="#485060" stroke-width="1.0" stroke-opacity="0.85"/>
<line x1="489.3" y1="107.8" x2="483.6" y2="140.5" stroke="#485060" stroke-width="1.0" stroke-opacity="0.85"/>
<line x1="462.8" y1="115.9" x2="483.6" y2="140.5" stroke="#485060" stroke-width="1.0" stroke-opacity="0.85"/>
<line x1="452.8" y1="141.8" x2="483.6" y2="140.5" stroke="#485060" stroke-width="1.0" stroke-opacity="0.85"/>
<line x1="452.8" y1="141.8" x2="469.5" y2="170.8" stroke="#485060" stroke-width="1.0" stroke-opacity="0.85"/>
<line x1="452.8" y1="141.8" x2="497.7" y2="179" stroke="#485060" stroke-width="1.0" stroke-opacity="0.85"/>
<line x1="469.5" y1="170.8" x2="497.7" y2="179" stroke="#485060" stroke-width="1.0" stroke-opacity="0.85"/>
<line x1="469.5" y1="170.8" x2="500.9" y2="212" stroke="#485060" stroke-width="1.0" stroke-opacity="0.85"/>
<line x1="497.7" y1="179" x2="500.9" y2="212" stroke="#485060" stroke-width="1.0" stroke-opacity="0.85"/>
<line x1="470.7" y1="204.5" x2="500.9" y2="212" stroke="#485060" stroke-width="1.0" stroke-opacity="0.85"/>
<line x1="489.3" y1="107.8" x2="500.9" y2="212" stroke="#485060" stroke-width="1.0" stroke-opacity="0.85"/>
<line x1="462.8" y1="115.9" x2="500.9" y2="212" stroke="#485060" stroke-width="1.0" stroke-opacity="0.85"/>
<line x1="435.2" y1="105.3" x2="500.9" y2="212" stroke="#485060" stroke-width="1.0" stroke-opacity="0.85"/>
<line x1="478.3" y1="47" x2="500.9" y2="212" stroke="#485060" stroke-width="1.0" stroke-opacity="0.85"/>
<line x1="477.5" y1="83.2" x2="500.9" y2="212" stroke="#485060" stroke-width="1.0" stroke-opacity="0.85"/>
<line x1="489.3" y1="107.8" x2="497.7" y2="179" stroke="#485060" stroke-width="1.0" stroke-opacity="0.85"/>
<line x1="408.2" y1="85.4" x2="462.8" y2="115.9" stroke="#485060" stroke-width="1.0" stroke-opacity="0.85"/>
<line x1="408.2" y1="85.4" x2="452.8" y2="141.8" stroke="#485060" stroke-width="1.0" stroke-opacity="0.85"/>
<line x1="436.8" y1="63.3" x2="462.8" y2="115.9" stroke="#485060" stroke-width="1.0" stroke-opacity="0.85"/>
<line x1="365.5" y1="116.7" x2="452.8" y2="141.8" stroke="#485060" stroke-width="1.0" stroke-opacity="0.85"/>
<line x1="319.2" y1="143.7" x2="452.8" y2="141.8" stroke="#485060" stroke-width="1.0" stroke-opacity="0.85"/>
<line x1="348.6" y1="141.3" x2="462.8" y2="115.9" stroke="#485060" stroke-width="1.0" stroke-opacity="0.85"/>
<line x1="348.6" y1="141.3" x2="489.3" y2="107.8" stroke="#485060" stroke-width="1.0" stroke-opacity="0.85"/>
<line x1="399.6" y1="112.4" x2="489.3" y2="107.8" stroke="#485060" stroke-width="1.0" stroke-opacity="0.85"/>
<line x1="399.6" y1="112.4" x2="500.9" y2="212" stroke="#485060" stroke-width="1.0" stroke-opacity="0.85"/>
<line x1="414.1" y1="133.6" x2="500.9" y2="212" stroke="#485060" stroke-width="1.0" stroke-opacity="0.85"/>
<line x1="385.2" y1="147.5" x2="489.3" y2="107.8" stroke="#485060" stroke-width="1.0" stroke-opacity="0.85"/>
<line x1="483.6" y1="140.5" x2="500.9" y2="212" stroke="#485060" stroke-width="1.0" stroke-opacity="0.85"/>
<line x1="483.6" y1="140.5" x2="470.7" y2="204.5" stroke="#485060" stroke-width="1.0" stroke-opacity="0.85"/>
<line x1="441.2" y1="191.6" x2="500.9" y2="212" stroke="#485060" stroke-width="1.0" stroke-opacity="0.85"/>
<line x1="470.7" y1="204.5" x2="497.7" y2="179" stroke="#485060" stroke-width="1.0" stroke-opacity="0.85"/>
<line x1="435.2" y1="105.3" x2="483.6" y2="140.5" stroke="#485060" stroke-width="1.0" stroke-opacity="0.85"/>
<line x1="477.5" y1="83.2" x2="489.3" y2="107.8" stroke="#485060" stroke-width="1.0" stroke-opacity="0.85"/>
<line x1="478.3" y1="47" x2="489.3" y2="107.8" stroke="#485060" stroke-width="1.0" stroke-opacity="0.85"/>
<line x1="478.3" y1="47" x2="462.8" y2="115.9" stroke="#485060" stroke-width="1.0" stroke-opacity="0.85"/>
<line x1="365.5" y1="116.7" x2="414.1" y2="133.6" stroke="#485060" stroke-width="1.0" stroke-opacity="0.85"/>
<line x1="319.2" y1="143.7" x2="414.1" y2="133.6" stroke="#485060" stroke-width="1.0" stroke-opacity="0.85"/>
<line x1="478.3" y1="47" x2="435.2" y2="105.3" stroke="#485060" stroke-width="1.0" stroke-opacity="0.85"/>
<line x1="478.3" y1="47" x2="462.8" y2="115.9" stroke="#485060" stroke-width="1.0" stroke-opacity="0.85"/>
<line x1="452.8" y1="141.8" x2="500.9" y2="212" stroke="#485060" stroke-width="1.0" stroke-opacity="0.85"/>
<line x1="319.2" y1="143.7" x2="500.9" y2="212" stroke="#485060" stroke-width="1.0" stroke-opacity="0.85"/>
<line x1="348.6" y1="141.3" x2="500.9" y2="212" stroke="#485060" stroke-width="1.0" stroke-opacity="0.85"/>
<line x1="469.5" y1="170.8" x2="462.8" y2="115.9" stroke="#485060" stroke-width="1.0" stroke-opacity="0.85"/>
<line x1="469.5" y1="170.8" x2="399.6" y2="112.4" stroke="#485060" stroke-width="1.0" stroke-opacity="0.85"/>
<line x1="497.7" y1="179" x2="414.1" y2="133.6" stroke="#485060" stroke-width="1.0" stroke-opacity="0.85"/>
<line x1="469.5" y1="170.8" x2="414.1" y2="133.6" stroke="#485060" stroke-width="1.0" stroke-opacity="0.85"/>
<line x1="497.7" y1="179" x2="478.3" y2="47" stroke="#485060" stroke-width="1.0" stroke-opacity="0.85"/>
<line x1="469.5" y1="170.8" x2="483.6" y2="140.5" stroke="#485060" stroke-width="1.0" stroke-opacity="0.85"/>
<line x1="497.7" y1="179" x2="483.6" y2="140.5" stroke="#485060" stroke-width="1.0" stroke-opacity="0.85"/>
<rect x="476.5" y="8.6" width="36" height="12.2" rx="6.1" fill="#000" fill-opacity="0.25"/>
<rect x="476.5" y="8.1" width="36" height="12.2" rx="6.1" fill="url(#pg1)"/>
<rect x="484.5" y="9.0" width="20" height="2.6" rx="1.3" fill="#fff" fill-opacity="0.6"/>
<text x="484.5" y="15.7" font-size="4.6" font-weight="bold" textLength="20" lengthAdjust="spacingAndGlyphs" fill="#3a2028" font-family="Liberation Sans, sans-serif">cellular_pod</text>
<rect x="265.1" y="142.8" width="36" height="12.2" rx="6.1" fill="#000" fill-opacity="0.25"/>
<rect x="265.1" y="142.3" width="36" height="12.2" rx="6.1" fill="url(#pg2)"/>
<rect x="273.1" y="143.20000000000002" width="20" height="2.6" rx="1.3" fill="#fff" fill-opacity="0.6"/>
<text x="273.6" y="149.9" font-size="4.6" font-weight="bold" textLength="19" lengthAdjust="spacingAndGlyphs" fill="#3a2028" font-family="Liberation Sans, sans-serif">fangjie_pod</text>
<rect x="507.70000000000005" y="235.70000000000002" width="36" height="12.2" rx="6.1" fill="#000" fill-opacity="0.25"/>
<rect x="507.70000000000005" y="235.20000000000002" width="36" height="12.2" rx="6.1" fill="url(#pg3)"/>
<rect x="515.7" y="236.10000000000002" width="20" height="2.6" rx="1.3" fill="#fff" fill-opacity="0.6"/>
<text x="516.7" y="242.8" font-size="4.6" font-weight="bold" textLength="18" lengthAdjust="spacingAndGlyphs" fill="#3a2028" font-family="Liberation Sans, sans-serif">gaiti_seed</text>
<circle cx="478.3" cy="47" r="8.1" fill="url(#ng4)" stroke="#546820" stroke-width="0.45"/>
<ellipse cx="478.3" cy="43" rx="5" ry="2.6" fill="#fff" fill-opacity="0.5"/>
<text x="478.3" y="48.4" font-size="4.0" text-anchor="middle" fill="#2a1a1a" font-family="Liberation Sans, sans-serif">JUN</text>
<circle cx="436.8" cy="63.3" r="8.1" fill="url(#ng5)" stroke="#744b48" stroke-width="0.45"/>
<ellipse cx="436.8" cy="59.3" rx="5" ry="2.6" fill="#fff" fill-opacity="0.5"/>
<text x="436.8" y="64.7" font-size="4.0" text-anchor="middle" fill="#2a1a1a" font-family="Liberation Sans, sans-serif">GATA3</text>
<circle cx="408.2" cy="85.4" r="8.1" fill="url(#ng6)" stroke="#744b48" stroke-width="0.45"/>
<ellipse cx="408.2" cy="81.4" rx="5" ry="2.6" fill="#fff" fill-opacity="0.5"/>
<text x="408.2" y="86.80000000000001" font-size="4.0" text-anchor="middle" fill="#2a1a1a" font-family="Liberation Sans, sans-serif">CHUK</text>
<circle cx="477.5" cy="83.2" r="8.1" fill="url(#ng7)" stroke="#64306c" stroke-width="0.45"/>
<ellipse cx="477.5" cy="79.2" rx="5" ry="2.6" fill="#fff" fill-opacity="0.5"/>
<text x="477.5" y="84.60000000000001" font-size="4.0" text-anchor="middle" fill="#2a1a1a" font-family="Liberation Sans, sans-serif">HNF4A</text>
<circle cx="365.5" cy="116.7" r="8.1" fill="url(#ng8)" stroke="#496471" stroke-width="0.45"/>
<ellipse cx="365.5" cy="112.7" rx="5" ry="2.6" fill="#fff" fill-opacity="0.5"/>
<text x="365.5" y="118.10000000000001" font-size="4.0" text-anchor="middle" fill="#2a1a1a" font-family="Liberation Sans, sans-serif">BCL2</text>
<circle cx="399.6" cy="112.4" r="8.1" fill="url(#ng9)" stroke="#726e2d" stroke-width="0.45"/>
<ellipse cx="399.6" cy="108.4" rx="5" ry="2.6" fill="#fff" fill-opacity="0.5"/>
<text x="399.6" y="113.80000000000001" font-size="4.0" text-anchor="middle" fill="#2a1a1a" font-family="Liberation Sans, sans-serif">TP53</text>
<circle cx="435.2" cy="105.3" r="8.1" fill="url(#ng10)" stroke="#106160" stroke-width="0.45"/>
<ellipse cx="435.2" cy="101.3" rx="5" ry="2.6" fill="#fff" fill-opacity="0.5"/>
<text x="435.2" y="106.7" font-size="4.0" text-anchor="middle" fill="#2a1a1a" font-family="Liberation Sans, sans-serif">MMP2</text>
<circle cx="462.8" cy="115.9" r="8.1" fill="url(#ng11)" stroke="#716050" stroke-width="0.45"/>
<ellipse cx="462.8" cy="111.9" rx="5" ry="2.6" fill="#fff" fill-opacity="0.5"/>
<text x="462.8" y="117.30000000000001" font-size="4.0" text-anchor="middle" fill="#2a1a1a" font-family="Liberation Sans, sans-serif">MMP3</text>
<circle cx="489.3" cy="107.8" r="8.1" fill="url(#ng12)" stroke="#726952" stroke-width="0.45"/>
<ellipse cx="489.3" cy="103.8" rx="5" ry="2.6" fill="#fff" fill-opacity="0.5"/>
<text x="489.3" y="109.2" font-size="4.0" text-anchor="middle" fill="#2a1a1a" font-family="Liberation Sans, sans-serif">MMP9</text>
<circle cx="319.2" cy="143.7" r="8.1" fill="url(#ng13)" stroke="#744b48" stroke-width="0.45"/>
<ellipse cx="319.2" cy="139.7" rx="5" ry="2.6" fill="#fff" fill-opacity="0.5"/>
<text x="319.2" y="145.1" font-size="4.0" text-anchor="middle" fill="#2a1a1a" font-family="Liberation Sans, sans-serif">CASP3</text>
<circle cx="348.6" cy="141.3" r="8.1" fill="url(#ng14)" stroke="#104868" stroke-width="0.45"/>
<ellipse cx="348.6" cy="137.3" rx="5" ry="2.6" fill="#fff" fill-opacity="0.5"/>
<text x="348.6" y="142.70000000000002" font-size="4.0" text-anchor="middle" fill="#2a1a1a" font-family="Liberation Sans, sans-serif">AGTR1</text>
<circle cx="414.1" cy="133.6" r="8.1" fill="url(#ng15)" stroke="#744b48" stroke-width="0.45"/>
<ellipse cx="414.1" cy="129.6" rx="5" ry="2.6" fill="#fff" fill-opacity="0.5"/>
<text x="414.1" y="135.0" font-size="4.0" text-anchor="middle" fill="#2a1a1a" font-family="Liberation Sans, sans-serif">MAPK3</text>
<circle cx="452.8" cy="141.8" r="8.1" fill="url(#ng16)" stroke="#426a5c" stroke-width="0.45"/>
<ellipse cx="452.8" cy="137.8" rx="5" ry="2.6" fill="#fff" fill-opacity="0.5"/>
<text x="452.8" y="143.20000000000002" font-size="4.0" text-anchor="middle" fill="#2a1a1a" font-family="Liberation Sans, sans-serif">MAPK1</text>
<circle cx="483.6" cy="140.5" r="8.1" fill="url(#ng17)" stroke="#106020" stroke-width="0.45"/>
<ellipse cx="483.6" cy="136.5" rx="5" ry="2.6" fill="#fff" fill-opacity="0.5"/>
<text x="483.6" y="141.9" font-size="4.0" text-anchor="middle" fill="#2a1a1a" font-family="Liberation Sans, sans-serif">SOD1</text>
<circle cx="385.2" cy="147.5" r="8.1" fill="url(#ng18)" stroke="#744b48" stroke-width="0.45"/>
<ellipse cx="385.2" cy="143.5" rx="5" ry="2.6" fill="#fff" fill-opacity="0.5"/>
<text x="385.2" y="148.9" font-size="4.0" text-anchor="middle" fill="#2a1a1a" font-family="Liberation Sans, sans-serif">CDH11</text>
<circle cx="359" cy="164.5" r="8.1" fill="url(#ng19)" stroke="#744b48" stroke-width="0.45"/>
<ellipse cx="359" cy="160.5" rx="5" ry="2.6" fill="#fff" fill-opacity="0.5"/>
<text x="359" y="165.9" font-size="4.0" text-anchor="middle" fill="#2a1a1a" font-family="Liberation Sans, sans-serif">BAAT</text>
<circle cx="429" cy="162.3" r="8.1" fill="url(#ng20)" stroke="#744b48" stroke-width="0.45"/>
<ellipse cx="429" cy="158.3" rx="5" ry="2.6" fill="#fff" fill-opacity="0.5"/>
<text x="429" y="163.70000000000002" font-size="4.0" text-anchor="middle" fill="#2a1a1a" font-family="Liberation Sans, sans-serif">UGT1A7</text>
<circle cx="395.5" cy="178" r="8.1" fill="url(#ng21)" stroke="#744b48" stroke-width="0.45"/>
<ellipse cx="395.5" cy="174" rx="5" ry="2.6" fill="#fff" fill-opacity="0.5"/>
<text x="395.5" y="179.4" font-size="4.0" text-anchor="middle" fill="#2a1a1a" font-family="Liberation Sans, sans-serif">UGT1A3</text>
<circle cx="469.5" cy="170.8" r="8.1" fill="url(#ng22)" stroke="#5a2b71" stroke-width="0.45"/>
<ellipse cx="469.5" cy="166.8" rx="5" ry="2.6" fill="#fff" fill-opacity="0.5"/>
<text x="469.5" y="172.20000000000002" font-size="4.0" text-anchor="middle" fill="#2a1a1a" font-family="Liberation Sans, sans-serif">AGTR1</text>
<circle cx="497.7" cy="179" r="8.1" fill="url(#ng23)" stroke="#5a2b71" stroke-width="0.45"/>
<ellipse cx="497.7" cy="175" rx="5" ry="2.6" fill="#fff" fill-opacity="0.5"/>
<text x="497.7" y="180.4" font-size="4.0" text-anchor="middle" fill="#2a1a1a" font-family="Liberation Sans, sans-serif">ACE2</text>
<circle cx="441.2" cy="191.6" r="8.1" fill="url(#ng24)" stroke="#744b48" stroke-width="0.45"/>
<ellipse cx="441.2" cy="187.6" rx="5" ry="2.6" fill="#fff" fill-opacity="0.5"/>
<text x="441.2" y="193.0" font-size="4.0" text-anchor="middle" fill="#2a1a1a" font-family="Liberation Sans, sans-serif">UGT1A1</text>
<circle cx="470.7" cy="204.5" r="8.1" fill="url(#ng25)" stroke="#747154" stroke-width="0.45"/>
<ellipse cx="470.7" cy="200.5" rx="5" ry="2.6" fill="#fff" fill-opacity="0.5"/>
<text x="470.7" y="205.9" font-size="4.0" text-anchor="middle" fill="#2a1a1a" font-family="Liberation Sans, sans-serif">PRKCA</text>
<circle cx="500.9" cy="212" r="8.1" fill="url(#ng26)" stroke="#79624b" stroke-width="0.45"/>
<ellipse cx="500.9" cy="208" rx="5" ry="2.6" fill="#fff" fill-opacity="0.5"/>
<text x="500.9" y="213.4" font-size="4.0" text-anchor="middle" fill="#2a1a1a" font-family="Liberation Sans, sans-serif">IL6</text></g>
<g><rect x="9.9" y="268.8" width="316.90000000000003" height="192.7" fill="#fff"/>
<rect x="9.9" y="281.50" width="292.70" height="2.00" fill="#d6e0e4"/>
<rect x="9.9" y="290.70" width="288.40" height="2.00" fill="#d6e0e4"/>
<rect x="9.9" y="299.90" width="282.50" height="2.00" fill="#d6e0e4"/>
<rect x="9.9" y="309.10" width="281.00" height="2.00" fill="#d6e0e4"/>
<rect x="9.9" y="318.30" width="277.80" height="2.00" fill="#d6e0e4"/>
<rect x="9.9" y="327.50" width="271.50" height="2.00" fill="#d6e0e4"/>
<rect x="9.9" y="336.70" width="271.30" height="2.00" fill="#d6e0e4"/>
<rect x="9.9" y="345.90" width="266.80" height="2.00" fill="#d6e0e4"/>
<rect x="9.9" y="355.10" width="259.20" height="2.00" fill="#d6e0e4"/>
<rect x="9.9" y="364.30" width="256.80" height="2.00" fill="#d6e0e4"/>
<rect x="9.9" y="373.50" width="255.90" height="2.00" fill="#d6e0e4"/>
<rect x="9.9" y="382.70" width="250.20" height="2.00" fill="#d6e0e4"/>
<rect x="9.9" y="391.90" width="249.80" height="2.00" fill="#d6e0e4"/>
<rect x="9.9" y="401.10" width="246.60" height="2.00" fill="#d6e0e4"/>
<rect x="9.9" y="410.30" width="246.60" height="2.00" fill="#d6e0e4"/>
<rect x="9.9" y="419.50" width="245.70" height="2.00" fill="#d6e0e4"/>
<rect x="9.9" y="428.70" width="244.40" height="2.00" fill="#d6e0e4"/>
<rect x="9.9" y="437.90" width="243.00" height="2.00" fill="#d6e0e4"/>
<rect x="9.9" y="447.10" width="239.90" height="2.00" fill="#d6e0e4"/>
<line x1="41.10" y1="268.8" x2="41.10" y2="461.5" stroke="#a8a8a8" stroke-width="0.8"/>
<line x1="72.60" y1="268.8" x2="72.60" y2="461.5" stroke="#a8a8a8" stroke-width="0.8"/>
<line x1="103.50" y1="268.8" x2="103.50" y2="461.5" stroke="#a8a8a8" stroke-width="0.8"/>
<line x1="166.30" y1="268.8" x2="166.30" y2="461.5" stroke="#a8a8a8" stroke-width="0.8"/>
<line x1="322.40" y1="268.8" x2="322.40" y2="461.5" stroke="#a8a8a8" stroke-width="0.8"/>
<rect x="9.9" y="274.60" width="301.90" height="6.6000000000000005" fill="#ff6600" stroke="#5a4a40" stroke-width="0.6"/>
<text transform="translate(330.6,279.90) scale(1.222,1)" font-size="7.8" fill="#111" stroke="#111" stroke-width="0.1" font-family="DejaVu Sans, sans-serif">Diabetic Retinopathy</text>
<rect x="9.9" y="283.80" width="292.70" height="6.6000000000000005" fill="#ff6600" stroke="#5a4a40" stroke-width="0.6"/>
<text transform="translate(330.6,289.17) scale(1.222,1)" font-size="7.8" fill="#111" stroke="#111" stroke-width="0.1" font-family="DejaVu Sans, sans-serif">Experimental Organism Basal Cell Carcinoma</text>
<rect x="9.9" y="293.00" width="288.40" height="6.6000000000000005" fill="#ff6600" stroke="#5a4a40" stroke-width="0.6"/>
<text transform="translate(330.6,298.44) scale(1.222,1)" font-size="7.8" fill="#111" stroke="#111" stroke-width="0.1" font-family="DejaVu Sans, sans-serif">Acute myocardial infarction</text>
<rect x="9.9" y="302.20" width="282.50" height="6.6000000000000005" fill="#ff6600" stroke="#5a4a40" stroke-width="0.6"/>
<text transform="translate(330.6,307.71) scale(1.222,1)" font-size="7.8" fill="#111" stroke="#111" stroke-width="0.1" font-family="DejaVu Sans, sans-serif">Infection</text>
<rect x="9.9" y="311.40" width="281.00" height="6.6000000000000005" fill="#ff6600" stroke="#5a4a40" stroke-width="0.6"/>
<text transform="translate(330.6,316.98) scale(1.222,1)" font-size="7.8" fill="#111" stroke="#111" stroke-width="0.1" font-family="DejaVu Sans, sans-serif">Renal carcinoma</text>
<rect x="9.9" y="320.60" width="277.80" height="6.6000000000000005" fill="#ff6600" stroke="#5a4a40" stroke-width="0.6"/>
<text transform="translate(330.6,326.25) scale(1.222,1)" font-size="7.8" fill="#111" stroke="#111" stroke-width="0.1" font-family="DejaVu Sans, sans-serif">Brain Ischemia</text>
<rect x="9.9" y="329.80" width="271.50" height="6.6000000000000005" fill="#ff6600" stroke="#5a4a40" stroke-width="0.6"/>
<text transform="translate(330.6,335.52) scale(1.222,1)" font-size="7.8" fill="#111" stroke="#111" stroke-width="0.1" font-family="DejaVu Sans, sans-serif">Benign Prostatic Hyperplasia</text>
<rect x="9.9" y="339.00" width="271.30" height="6.6000000000000005" fill="#ff6600" stroke="#5a4a40" stroke-width="0.6"/>
<text transform="translate(330.6,344.79) scale(1.222,1)" font-size="7.8" fill="#111" stroke="#111" stroke-width="0.1" font-family="DejaVu Sans, sans-serif">Carcinoma, Basal Cell</text>
<rect x="9.9" y="348.20" width="266.80" height="6.6000000000000005" fill="#ff6600" stroke="#5a4a40" stroke-width="0.6"/>
<text transform="translate(330.6,354.06) scale(1.222,1)" font-size="7.8" fill="#111" stroke="#111" stroke-width="0.1" font-family="DejaVu Sans, sans-serif">Aortic Aneurysm, Abdominal</text>
<rect x="9.9" y="357.40" width="259.20" height="6.6000000000000005" fill="#ff6600" stroke="#5a4a40" stroke-width="0.6"/>
<text transform="translate(330.6,363.33) scale(1.222,1)" font-size="7.8" fill="#111" stroke="#111" stroke-width="0.1" font-family="DejaVu Sans, sans-serif">androgen independent prostate cancer</text>
<rect x="9.9" y="366.60" width="256.80" height="6.6000000000000005" fill="#ff6600" stroke="#5a4a40" stroke-width="0.6"/>
<text transform="translate(330.6,372.60) scale(1.222,1)" font-size="7.8" fill="#111" stroke="#111" stroke-width="0.1" font-family="DejaVu Sans, sans-serif">Henoch-Schoenlein Purpura</text>
<rect x="9.9" y="375.80" width="255.90" height="6.6000000000000005" fill="#ff6600" stroke="#5a4a40" stroke-width="0.6"/>
<text transform="translate(330.6,381.87) scale(1.222,1)" font-size="7.8" fill="#111" stroke="#111" stroke-width="0.1" font-family="DejaVu Sans, sans-serif">Pneumonitis</text>
<rect x="9.9" y="385.00" width="250.20" height="6.6000000000000005" fill="#ff6600" stroke="#5a4a40" stroke-width="0.6"/>
<text transform="translate(330.6,391.14) scale(1.222,1)" font-size="7.8" fill="#111" stroke="#111" stroke-width="0.1" font-family="DejaVu Sans, sans-serif">Subarachnoid Hemorrhage</text>
<rect x="9.9" y="394.20" width="249.80" height="6.6000000000000005" fill="#ff6600" stroke="#5a4a40" stroke-width="0.6"/>
<text transform="translate(330.6,400.41) scale(1.222,1)" font-size="7.8" fill="#111" stroke="#111" stroke-width="0.1" font-family="DejaVu Sans, sans-serif">Mammary Neoplasms, Experimental</text>
<rect x="9.9" y="403.40" width="246.60" height="6.6000000000000005" fill="#ff6600" stroke="#5a4a40" stroke-width="0.6"/>
<text transform="translate(330.6,409.68) scale(1.222,1)" font-size="7.8" fill="#111" stroke="#111" stroke-width="0.1" font-family="DejaVu Sans, sans-serif">Diabetes Mellitus, Experimental</text>
<rect x="9.9" y="412.60" width="246.60" height="6.6000000000000005" fill="#ff6600" stroke="#5a4a40" stroke-width="0.6"/>
<text transform="translate(330.6,418.95) scale(1.222,1)" font-size="7.8" fill="#111" stroke="#111" stroke-width="0.1" font-family="DejaVu Sans, sans-serif">Gastric ulcer</text>
<rect x="9.9" y="421.80" width="245.70" height="6.6000000000000005" fill="#ff6600" stroke="#5a4a40" stroke-width="0.6"/>
<text transform="translate(330.6,428.22) scale(1.222,1)" font-size="7.8" fill="#111" stroke="#111" stroke-width="0.1" font-family="DejaVu Sans, sans-serif">Fatty Liver Disease</text>
<rect x="9.9" y="431.00" width="244.40" height="6.6000000000000005" fill="#ff6600" stroke="#5a4a40" stroke-width="0.6"/>
<text transform="translate(330.6,437.49) scale(1.222,1)" font-size="7.8" fill="#111" stroke="#111" stroke-width="0.1" font-family="DejaVu Sans, sans-serif">Anaplasia</text>
<rect x="9.9" y="440.20" width="243.00" height="6.6000000000000005" fill="#ff6600" stroke="#5a4a40" stroke-width="0.6"/>
<text transform="translate(330.6,446.76) scale(1.222,1)" font-size="7.8" fill="#111" stroke="#111" stroke-width="0.1" font-family="DejaVu Sans, sans-serif">Malignant Head and Neck Neoplasm</text>
<rect x="9.9" y="449.40" width="239.90" height="6.6000000000000005" fill="#ff6600" stroke="#5a4a40" stroke-width="0.6"/>
<text transform="translate(330.6,456.03) scale(1.222,1)" font-size="7.8" fill="#111" stroke="#111" stroke-width="0.1" font-family="DejaVu Sans, sans-serif">polyps</text>
<rect x="9.9" y="268.8" width="316.90000000000003" height="192.7" fill="none" stroke="#444" stroke-width="1"/>
<line x1="9.90" y1="461.5" x2="9.90" y2="464.5" stroke="#444" stroke-width="0.8"/>
<text transform="translate(9.90,472.5) scale(1.28,1)" font-size="7.3" text-anchor="middle" fill="#222" stroke="#222" stroke-width="0.1" font-family="DejaVu Sans, sans-serif">0.0</text>
<line x1="48.99" y1="461.5" x2="48.99" y2="464.5" stroke="#444" stroke-width="0.8"/>
<text transform="translate(48.99,472.5) scale(1.28,1)" font-size="7.3" text-anchor="middle" fill="#222" stroke="#222" stroke-width="0.1" font-family="DejaVu Sans, sans-serif">2.5</text>
<line x1="88.08" y1="461.5" x2="88.08" y2="464.5" stroke="#444" stroke-width="0.8"/>
<text transform="translate(88.08,472.5) scale(1.28,1)" font-size="7.3" text-anchor="middle" fill="#222" stroke="#222" stroke-width="0.1" font-family="DejaVu Sans, sans-serif">5.0</text>
<line x1="127.16" y1="461.5" x2="127.16" y2="464.5" stroke="#444" stroke-width="0.8"/>
<text transform="translate(127.16,472.5) scale(1.28,1)" font-size="7.3" text-anchor="middle" fill="#222" stroke="#222" stroke-width="0.1" font-family="DejaVu Sans, sans-serif">7.5</text>
<line x1="166.25" y1="461.5" x2="166.25" y2="464.5" stroke="#444" stroke-width="0.8"/>
<text transform="translate(166.25,472.5) scale(1.28,1)" font-size="7.3" text-anchor="middle" fill="#222" stroke="#222" stroke-width="0.1" font-family="DejaVu Sans, sans-serif">10.0</text>
<line x1="205.34" y1="461.5" x2="205.34" y2="464.5" stroke="#444" stroke-width="0.8"/>
<text transform="translate(205.34,472.5) scale(1.28,1)" font-size="7.3" text-anchor="middle" fill="#222" stroke="#222" stroke-width="0.1" font-family="DejaVu Sans, sans-serif">12.5</text>
<line x1="244.43" y1="461.5" x2="244.43" y2="464.5" stroke="#444" stroke-width="0.8"/>
<text transform="translate(244.43,472.5) scale(1.28,1)" font-size="7.3" text-anchor="middle" fill="#222" stroke="#222" stroke-width="0.1" font-family="DejaVu Sans, sans-serif">15.0</text>
<line x1="283.51" y1="461.5" x2="283.51" y2="464.5" stroke="#444" stroke-width="0.8"/>
<text transform="translate(283.51,472.5) scale(1.28,1)" font-size="7.3" text-anchor="middle" fill="#222" stroke="#222" stroke-width="0.1" font-family="DejaVu Sans, sans-serif">17.5</text>
<line x1="322.60" y1="461.5" x2="322.60" y2="464.5" stroke="#444" stroke-width="0.8"/>
<text transform="translate(322.60,472.5) scale(1.28,1)" font-size="7.3" text-anchor="middle" fill="#222" stroke="#222" stroke-width="0.1" font-family="DejaVu Sans, sans-serif">20.0</text>
<text transform="translate(168.3,483.1) scale(1.3,1)" font-size="7.1" text-anchor="middle" fill="#222" stroke="#222" stroke-width="0.1" font-family="DejaVu Sans, sans-serif">-log10(P)</text></g>
<text x="176.6" y="19" font-size="15" font-weight="bold" font-family="Liberation Serif, serif" fill="#111">(A)</text>
<text x="524.6" y="14" font-size="15" font-weight="bold" font-family="Liberation Serif, serif" fill="#111">(B)</text>
<text x="498.6" y="273" font-size="15" font-weight="bold" font-family="Liberation Serif, serif" fill="#111">(C)</text>
</svg></body></html>
